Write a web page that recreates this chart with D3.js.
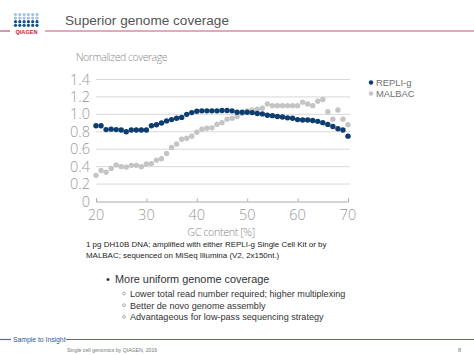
<!DOCTYPE html>
<html><head><meta charset="utf-8">
<script src="https://cdn.jsdelivr.net/npm/d3@7"></script>
<style>body{margin:0;background:#fff}svg{display:block}</style>
</head><body>
<svg id="c" width="474" height="355"></svg>
<script>
const gc = d3.range(20, 71);
const repli = [0.87,0.87,0.825,0.83,0.825,0.82,0.80,0.82,0.82,0.82,0.82,0.87,0.88,0.90,0.925,0.94,0.955,0.965,1.0,1.02,1.035,1.04,1.04,1.04,1.04,1.045,1.045,1.04,1.025,1.025,1.025,1.02,1.01,1.005,0.99,0.985,0.975,0.97,0.96,0.955,0.94,0.935,0.935,0.93,0.92,0.905,0.885,0.86,0.835,0.82,0.75];
const malbac = [0.30,0.355,0.335,0.38,0.42,0.40,0.395,0.415,0.415,0.40,0.43,0.435,0.475,0.49,0.55,0.62,0.66,0.715,0.725,0.75,0.795,0.83,0.84,0.845,0.885,0.905,0.945,0.955,0.975,1.01,1.04,1.05,1.06,1.07,1.12,1.10,1.10,1.10,1.10,1.10,1.10,1.14,1.12,1.10,1.15,1.17,1.03,0.945,1.05,0.945,0.88];
const yTicks = [0,0.2,0.4,0.6,0.8,1.0,1.2,1.4];
const xTicks = [20,30,40,50,60,70];
const seriesNames = ["REPLI-g","MALBAC"];
const colors = ["#0b3d6e","#c4c4c4"];
const subBullets = ["Lower total read number required; higher multiplexing","Better de novo genome assembly","Advantageous for low-pass sequencing strategy"];

const svg = d3.select("#c");
const light = "'Open Sans', 'DejaVu Sans', sans-serif";
const arial = "'Liberation Sans', Arial, sans-serif";
const narrow = "'Liberation Sans Narrow', 'Liberation Sans', Arial, sans-serif";

// header
svg.append("line").attr("x1",0).attr("x2",10).attr("y1",31).attr("y2",31).attr("stroke","#c9507c").attr("stroke-width",1.2);
svg.append("line").attr("x1",45).attr("x2",474).attr("y1",31).attr("y2",31).attr("stroke","#c9507c").attr("stroke-width",1.2);
svg.append("text").attr("x",65).attr("y",25).attr("font-family",arial).attr("font-size",13.6).attr("fill","#555").text("Superior genome coverage");
// logo
const logo = svg.append("g");
for (let r=0;r<4;r++) for (let c=0;c<6;c++){
  logo.append("circle").attr("cx",15.5+c*4.3).attr("cy",14.5+r*3.6).attr("r",1.6)
    .attr("fill", r<2 ? "#9ec3e6" : "#1a4f8f");
}
logo.append("text").attr("x",26.5).attr("y",33.5).attr("text-anchor","middle").attr("font-family",arial).attr("font-weight","bold").attr("font-size",5.6).attr("fill","#d02040").text("QIAGEN");

// chart
const x = d3.scaleLinear().domain([20,70]).range([96,348]);
const y = d3.scaleLinear().domain([0,1.4]).range([201.5,79.5]);

svg.append("text").attr("x",76).attr("y",61).attr("font-family",light).attr("font-weight",300).attr("font-size",10.5).attr("letter-spacing",-0.45).attr("fill","#888").text("Normalized coverage");

const grid = svg.append("g");
grid.selectAll("line").data(yTicks.filter(d=>d>0)).join("line")
  .attr("x1",x(20)).attr("x2",x(70)+2).attr("y1",d=>y(d)).attr("y2",d=>y(d))
  .attr("stroke","#d8d8d8").attr("stroke-width",1);

const yAxis = svg.append("g").attr("transform",`translate(${x(20)-3},0)`)
  .call(d3.axisLeft(y).tickValues(yTicks).tickFormat(d=>d===0?"0":d3.format(".1f")(d)).tickSize(0).tickPadding(3));
yAxis.select(".domain").remove();
yAxis.selectAll("text").attr("font-family",light).attr("font-weight",300).attr("font-size",14.5).attr("fill","#999");

const xAxis = svg.append("g").attr("transform",`translate(0,${y(0)})`)
  .call(d3.axisTop(x).tickValues(xTicks).tickSize(3).tickFormat(""));
xAxis.select(".domain").attr("stroke","#aaa");
xAxis.selectAll(".tick line").attr("stroke","#aaa");
svg.append("g").selectAll("text").data(xTicks).join("text")
  .attr("x",d=>x(d)).attr("y",y(0)+18).attr("text-anchor","middle")
  .attr("font-family",light).attr("font-weight",300).attr("font-size",14.5).attr("fill","#999").text(d=>d);

svg.append("text").attr("x",221).attr("y",236).attr("text-anchor","middle").attr("font-family",light).attr("font-weight",300).attr("font-size",10.8).attr("letter-spacing",-0.4).attr("fill","#888").text("GC content [%]");

[malbac, repli].forEach((s,i)=>{
  const col = i===0 ? colors[1] : colors[0];
  svg.append("g").selectAll("circle").data(s).join("circle")
    .attr("cx",(d,j)=>x(gc[j])).attr("cy",d=>y(d)).attr("r",2.7).attr("fill",col);
});

// legend
seriesNames.forEach((n,i)=>{
  svg.append("circle").attr("cx",371).attr("cy",82.5+i*11).attr("r",2.2).attr("fill",colors[i]);
  svg.append("text").attr("x",376).attr("y",86+i*11).attr("font-family",narrow).attr("font-size",9.4).attr("fill","#707070").text(n);
});

// caption
svg.append("text").attr("x",86).attr("y",247).attr("font-family",arial).attr("font-size",7.95).attr("fill","#222").text("1 pg DH10B DNA; amplified with either REPLI-g Single Cell Kit or by");
svg.append("text").attr("x",86).attr("y",258).attr("font-family",arial).attr("font-size",7.95).attr("fill","#222").text("MALBAC; sequenced on MiSeq Illumina (V2, 2x150nt.)");

// bullets
svg.append("text").attr("x",106).attr("y",282.5).attr("font-family",arial).attr("font-size",11).attr("fill","#333").text("•");
svg.append("text").attr("x",115).attr("y",282.5).attr("font-family",arial).attr("font-size",10.9).attr("fill","#333").text("More uniform genome coverage");
subBullets.forEach((t,i)=>{
  svg.append("circle").attr("cx",124).attr("cy",293.5+i*11.7).attr("r",1.4).attr("fill","none").attr("stroke","#999").attr("stroke-width",0.8);
  svg.append("text").attr("x",130).attr("y",296.8+i*11.7).attr("font-family",arial).attr("font-size",9.1).attr("fill","#333").text(t);
});

// footer
svg.append("line").attr("x1",0).attr("x2",11).attr("y1",339.5).attr("y2",339.5).attr("stroke","#5b6d8e").attr("stroke-width",1.2);
svg.append("line").attr("x1",66).attr("x2",474).attr("y1",339.5).attr("y2",339.5).attr("stroke","#5b6d8e").attr("stroke-width",1.2);
svg.append("text").attr("x",13).attr("y",342).attr("font-family",arial).attr("font-size",6.8).attr("fill","#2d5a9a").text("Sample to Insight");
svg.append("text").attr("x",67).attr("y",351.5).attr("font-family",arial).attr("font-size",5.2).attr("fill","#777").text("Single cell genomics by QIAGEN, 2016");
svg.append("text").attr("x",458).attr("y",351.5).attr("font-family",arial).attr("font-size",5.5).attr("fill","#777").text("8");
</script>
</body></html>
